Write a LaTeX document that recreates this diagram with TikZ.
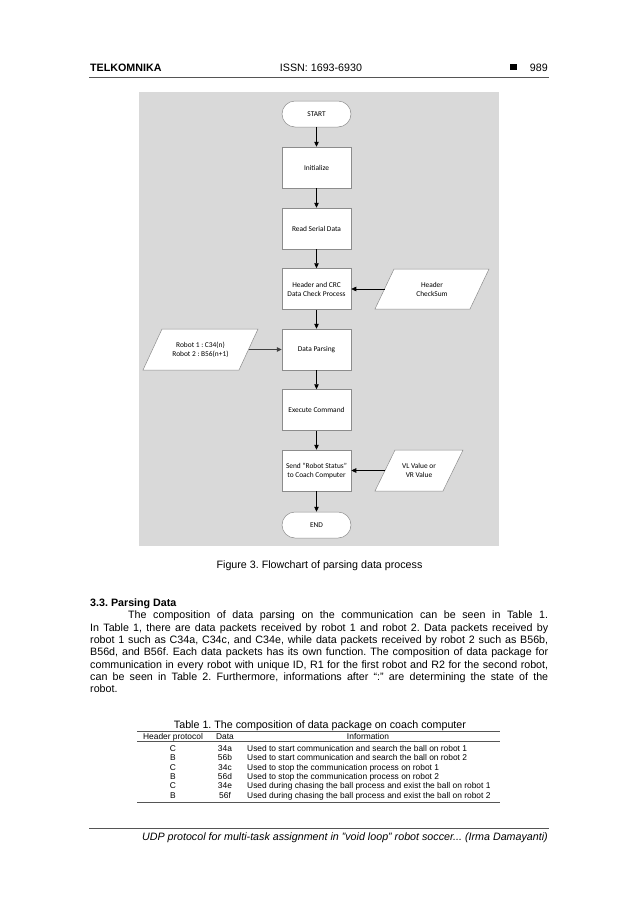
\documentclass[tikz,border=0pt]{standalone}
\usepackage{fontspec}
\setmainfont{Liberation Sans}
\newfontfamily\fcfont{Carlito}
\usetikzlibrary{shapes.geometric,arrows.meta,calc}
\definecolor{bggray}{HTML}{D9D9D9}
\definecolor{edgegray}{HTML}{8C8C8C}
\definecolor{rulegray}{HTML}{555555}
\newcommand\bodyfont{\fontsize{10.7}{12.3}\selectfont}
\newcommand\tabfont{\fontsize{8.4}{9.5}\selectfont}
\newcommand\flowfont{\fcfont\fontsize{7.4}{9}\selectfont}
\frenchspacing
\tikzset{
  fbox/.style={draw=edgegray, fill=white, line width=0.5pt, minimum width=69pt,
    minimum height=41pt, inner sep=1pt, font=\flowfont, align=center},
  term/.style={fbox, rounded corners=13pt, minimum height=26pt},
  io/.style={rectangle, minimum height=40pt, font=\flowfont, align=center, inner sep=1pt, outer sep=0pt},
  ioshape/.style={draw=edgegray, fill=white, line width=0.5pt},
  flow/.style={-{Triangle[length=5pt,width=4.5pt]}, line width=0.6pt, black},
  txt/.style={inner sep=0pt, font=\bodyfont},
  tabtxt/.style={inner sep=0pt, font=\tabfont},
  pagerule/.style={line width=0.8pt, rulegray},
}
\newcommand\ioframe[2]{% node name, half slant
  \filldraw[ioshape] ($(#1.north west)+(#2,0)$) -- ($(#1.north east)+(#2,0)$)
    -- ($(#1.south east)+(-#2,0)$) -- ($(#1.south west)+(-#2,0)$) -- cycle;}
\begin{document}
\frenchspacing
\begin{tikzpicture}[x=1pt,y=-1pt]
\useasboundingbox (0,0) rectangle (638,902);
\fill[white] (0,0) rectangle (638,902);

% running header
\node[txt, anchor=base west, font=\bodyfont\bfseries] (hl) at (90,71) {TELKOMNIKA};
\node[txt, anchor=base] (hc) at (321,71) {ISSN: 1693-6930};
\node[fill=black, minimum size=6.5pt, inner sep=0pt] (sq) at (513.5,67.2) {};
\node[txt, anchor=base east] (hr) at (548,71) {989};
\draw[pagerule] (89,77) -- (549,77);

% flowchart
\fill[bggray] (139,92) rectangle (499,546);
\node[term] (start) at (316.5,114) {START};
\node[fbox] (init) at (316.5,167.5) {Initialize};
\node[fbox] (read) at (316.5,228.5) {Read Serial Data};
\node[fbox] (crc) at (316.5,289) {Header and CRC\\Data Check Process};
\node[fbox] (parse) at (316.5,349.5) {Data Parsing};
\node[fbox] (exec) at (316.5,410) {Execute Command};
\node[fbox] (send) at (316.5,470.5) {Send “Robot Status”\\to Coach Computer};
\node[term] (end) at (316.5,525) {END};

\path node[io, minimum width=95pt] (cks) at (432,289) {};
\ioframe{cks}{9.5}
\node[font=\flowfont, align=center, inner sep=0pt] (ckst) at (cks.center) {Header\\CheckSum};
\path node[io, minimum width=96pt, minimum height=41pt] (robot) at (200.5,349.5) {};
\ioframe{robot}{9.5}
\node[font=\flowfont, align=center, inner sep=0pt] (robott) at (robot.center) {Robot 1 : C34(n)\\Robot 2 : B56(n+1)};
\path node[io, minimum width=68pt, minimum height=41pt] (vl) at (419,470.5) {};
\ioframe{vl}{10}
\node[font=\flowfont, align=center, inner sep=0pt] (vlt) at (vl.center) {VL Value or\\VR Value};

\draw[flow] (start) -- (init);
\draw[flow] (init) -- (read);
\draw[flow] (read) -- (crc);
\draw[flow] (crc) -- (parse);
\draw[flow] (parse) -- (exec);
\draw[flow] (exec) -- (send);
\draw[flow] (send) -- (end);
\draw[flow] (cks.west) -- (crc.east);
\draw[flow, draw=black!75, line width=0.9pt] (robot.east) -- (parse.west);
\draw[flow] (vl.west) -- (send.east);

% caption
\node[txt, anchor=base] (cap) at (319.5,568.5) {Figure 3. Flowchart of parsing data process};

% section
\node[txt, anchor=base west, font=\bodyfont\bfseries] (head) at (90,606.5) {3.3. Parsing Data};
\node[txt, anchor=base west, text width=458pt, align=justify] (para) at (90,618.8) {\frenchspacing%
\hspace*{38pt}The composition of data parsing on the communication can be seen in Table 1.\linebreak
In Table 1, there are data packets received by robot 1 and robot 2. Data packets received by\linebreak
robot 1 such as C34a, C34c, and C34e, while data packets received by robot 2 such as B56b,\linebreak
B56d, and B56f. Each data packets has its own function. The composition of data package for\linebreak
communication in every robot with unique ID, R1 for the first robot and R2 for the second robot,\linebreak
can be seen in Table 2. Furthermore, informations after “:” are determining the state of the\linebreak
robot.};

% table
\node[txt, anchor=base] (tcap) at (320,728.5) {\frenchspacing Table 1. The composition of data package on coach computer};
\draw[line width=0.8pt, rulegray] (137,731) -- (500,731);
\draw[line width=0.5pt, rulegray] (137,741.7) -- (500,741.7);
\draw[line width=0.8pt, rulegray] (137,802) -- (500,802);
\node[tabtxt, anchor=base] (th1) at (173,739) {Header protocol};
\node[tabtxt, anchor=base] (th2) at (225,739) {Data};
\node[tabtxt, anchor=base] (th3) at (368,739) {Information};
\foreach \i/\p/\d/\t/\yy in {
  1/C/34a/Used to start communication and search the ball on robot 1/751,
  2/B/56b/Used to start communication and search the ball on robot 2/760.5,
  3/C/34c/Used to stop the communication process on robot 1/770,
  4/B/56d/Used to stop the communication process on robot 2/779.4,
  5/C/34e/Used during chasing the ball process and exist the ball on robot 1/788.8,
  6/B/56f/Used during chasing the ball process and exist the ball on robot 2/798.2}{
  \node[tabtxt, anchor=base] (p\i) at (173,\yy) {\p};
  \node[tabtxt, anchor=base] (d\i) at (225,\yy) {\d};
  \node[tabtxt, anchor=base west] (t\i) at (247,\yy) {\t};
}

% footer
\draw[pagerule] (89,828) -- (549,828);
\node[txt, anchor=base east, font=\bodyfont\itshape] (foot) at (548,840.5) {\frenchspacing UDP protocol for multi-task assignment in "void loop" robot soccer... (Irma Damayanti)};
\end{tikzpicture}
\end{document}
